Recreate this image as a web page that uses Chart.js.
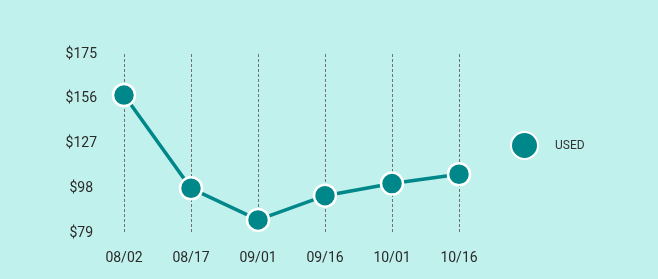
<!DOCTYPE html>
<html>
<head>
<meta charset="utf-8">
<script src="https://cdn.jsdelivr.net/npm/chart.js@4"></script>
<style>
  html, body { margin: 0; padding: 0; background: #c0f1ed; }
  #wrap { position: relative; width: 658px; height: 279px; }
  #legend {
    position: absolute; left: 510px; top: 130px; height: 30px;
    display: flex; align-items: center;
    font-family: Roboto, sans-serif; font-size: 12px; color: #333;
  }
  #legend .dot {
    width: 25px; height: 25px; border-radius: 50%;
    background: #00878a; border: 2px solid #fff; margin-right: 16px;
  }
</style>
</head>
<body>
<div id="wrap">
  <canvas id="chart" width="658" height="279"></canvas>
  <div id="legend"><span class="dot"></span><span id="legendText"></span></div>
</div>
<script>
// ---- DATA ----
const dates = ['08/02', '08/17', '09/01', '09/16', '10/01', '10/16'];
const usedPrices = [153, 103, 86, 99, 105.5, 110.5];
const yTickLabels = ['$79', '$98', '$127', '$156', '$175'];
const seriesName = 'USED';

const TEAL = '#00878a';

document.getElementById('legendText').textContent = seriesName;

// ---- CHART ----
new Chart(document.getElementById('chart'), {
  type: 'line',
  data: {
    labels: dates,
    datasets: [{
      label: seriesName,
      data: usedPrices,
      borderColor: TEAL,
      borderWidth: 3.5,
      tension: 0,
      pointRadius: 11,
      pointHoverRadius: 11,
      pointBackgroundColor: TEAL,
      pointBorderColor: '#fff',
      pointBorderWidth: 2.5,
      clip: false
    }]
  },
  options: {
    responsive: false,
    animation: false,
    layout: { padding: { top: 54, left: 60, right: 199, bottom: 0 } },
    plugins: { legend: { display: false }, tooltip: { enabled: false } },
    scales: {
      x: {
        offset: false,
        afterFit: s => { s.height = 46; },
        grid: { color: '#707070', lineWidth: 1, drawTicks: false },
        border: { display: false, dash: [3, 2] },
        ticks: { color: '#2a2a2a', padding: 17, font: { family: 'Roboto', size: 14 } }
      },
      y: {
        min: 79, max: 175,
        afterFit: s => { s.width = 64; },
        afterBuildTicks: s => { s.ticks = [79, 103, 127, 151, 175].map(v => ({ value: v })); },
        grid: { display: false, drawTicks: false },
        border: { display: false },
        ticks: {
          color: '#2a2a2a', padding: 27, crossAlign: 'center',
          font: { family: 'Roboto', size: 14 },
          callback: (v, i) => yTickLabels[i]
        }
      }
    }
  }
});
</script>
</body>
</html>
